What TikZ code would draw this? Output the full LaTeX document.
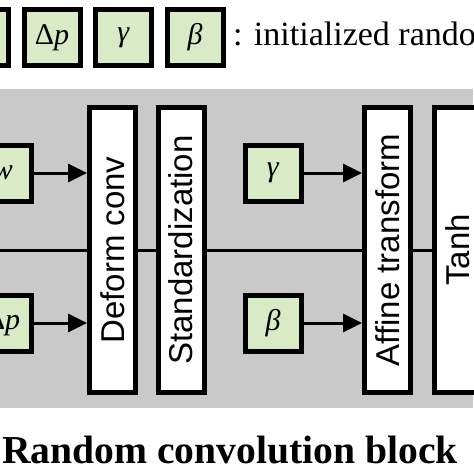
\documentclass[tikz,border=0pt]{standalone}
\usepackage{fontspec}
\setmainfont{Liberation Serif}
\setsansfont{Liberation Sans}
\usetikzlibrary{arrows.meta,backgrounds}
\definecolor{paramgreen}{RGB}{216,234,198}
\definecolor{blockgray}{RGB}{201,201,201}
\tikzset{
  param/.style={draw=black, line width=5pt, fill=paramgreen, minimum width=56pt, minimum height=56pt, inner sep=0pt, font=\fontsize{30}{32}\selectfont},
  opbox/.style={draw=black, line width=5pt, fill=white, minimum width=46pt, minimum height=285pt, inner sep=0pt, font=\sffamily\fontsize{33}{35}\selectfont},
  conn/.style={line width=3pt, -{Triangle[length=19pt,width=18pt]}},
  trunk/.style={line width=3pt}
}
\begin{document}
\begin{tikzpicture}[x=1pt,y=-1pt]
\useasboundingbox (0,0) rectangle (474,474);
% legend
\node[param] (lw) at (-19.5,37.5) {\textit{w}};
\node[param] (ldp) at (52,37.5) {Δ\textit{p}};
\node[param] (lg) at (123.5,37.5) {\textit{γ}};
\node[param] (lb) at (195,37.5) {\textit{β}};
\node[anchor=base west, inner sep=0pt, font=\fontsize{34}{36}\selectfont] (ltext) at (233,45) {: initialized rando};
% operations
\node[opbox] (deform) at (112.5,250) {\rotatebox{90}{Deform conv}};
\node[opbox] (std) at (181,250) {\rotatebox{90}{Standardization}};
\node[opbox] (affine) at (387.5,250) {\rotatebox{90}{Affine transform}};
\node[opbox] (tanh) at (457.5,250) {\rotatebox{90}{Tanh}};
% parameters
\node[param] (w) at (3,173) {\textit{w}};
\node[param] (dp) at (3,323) {Δ\textit{p}};
\node[param] (gam) at (273,173) {\textit{γ}};
\node[param] (bet) at (273,323) {\textit{β}};
\coordinate (in) at (-5,250);
\begin{scope}[on background layer]
\fill[blockgray] (0,89) rectangle (473,408);
\draw[trunk] (in) -- (tanh.west);
\end{scope}
\draw[conn] (w) -- (deform.west |- w);
\draw[conn] (dp) -- (deform.west |- dp);
\draw[conn] (gam) -- (affine.west |- gam);
\draw[conn] (bet) -- (affine.west |- bet);
% title
\node[anchor=base, inner sep=0pt, font=\bfseries\fontsize{39.6}{42}\selectfont] (title) at (230,463) {Random convolution block};
\end{tikzpicture}
\end{document}
